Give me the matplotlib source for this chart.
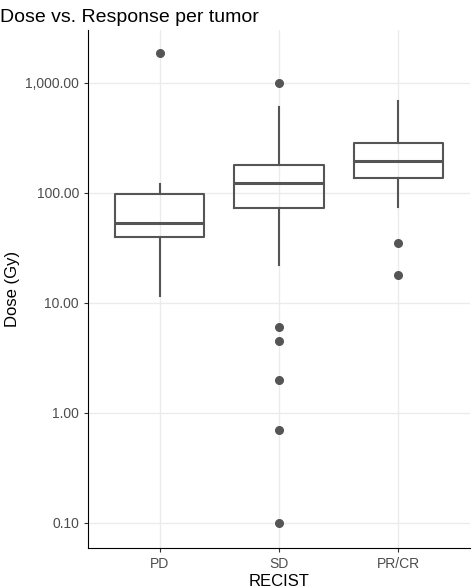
import matplotlib
matplotlib.use("Agg")
import matplotlib.pyplot as plt
from matplotlib.ticker import FixedLocator, FixedFormatter, NullLocator

categories = ["PD", "SD", "PR/CR"]
q1 = [40, 72, 135]
medians = [53, 122, 195]
q3 = [97, 180, 285]
whislo = [11.5, 22, 75]
whishi = [120, 600, 680]
fliers = [[1850], [1000, 6, 4.5, 2, 0.7, 0.1], [35, 18]]
ytick_vals = [0.1, 1, 10, 100, 1000]
ytick_labels = ["0.10", "1.00", "10.00", "100.00", "1,000.00"]

plt.rcParams['font.family'] = ['Liberation Sans', 'DejaVu Sans']
fig = plt.figure(figsize=(4.74, 5.88), dpi=100)
ax = fig.add_axes([88/474, 40/588, 382/474, 518/588])

stats = []
for i, c in enumerate(categories):
    stats.append(dict(label=c, q1=q1[i], med=medians[i], q3=q3[i],
                      whislo=whislo[i], whishi=whishi[i], fliers=fliers[i]))
col = "#555555"
ax.bxp(stats, positions=[1, 2, 3], widths=0.75, showcaps=False,
       boxprops=dict(color=col, linewidth=1.5),
       medianprops=dict(color=col, linewidth=2.2),
       whiskerprops=dict(color=col, linewidth=1.5),
       flierprops=dict(marker='o', markerfacecolor=col, markeredgecolor=col, markersize=5.5))
ax.set_yscale('log')
ax.set_ylim(10**-1.23, 10**3.48)
ax.set_xlim(0.4, 3.6)
ax.yaxis.set_major_locator(FixedLocator(ytick_vals))
ax.yaxis.set_major_formatter(FixedFormatter(ytick_labels))
ax.yaxis.set_minor_locator(NullLocator())
ax.set_axisbelow(True)
ax.grid(True, color="#ebebeb", linewidth=1)
for s in ['top', 'right']:
    ax.spines[s].set_visible(False)
for s in ['left', 'bottom']:
    ax.spines[s].set_color('black')
ax.tick_params(colors="#4d4d4d", labelsize=10, length=3)
ax.tick_params(axis='both', color='#333333')
ax.set_xlabel("RECIST", fontsize=12, labelpad=2)
ax.set_ylabel("Dose (Gy)", fontsize=12)
fig.text(0.0, 0.985, "Dose vs. Response per tumor", fontsize=14, va='top', ha='left')
fig.savefig("out.png", dpi=100)
